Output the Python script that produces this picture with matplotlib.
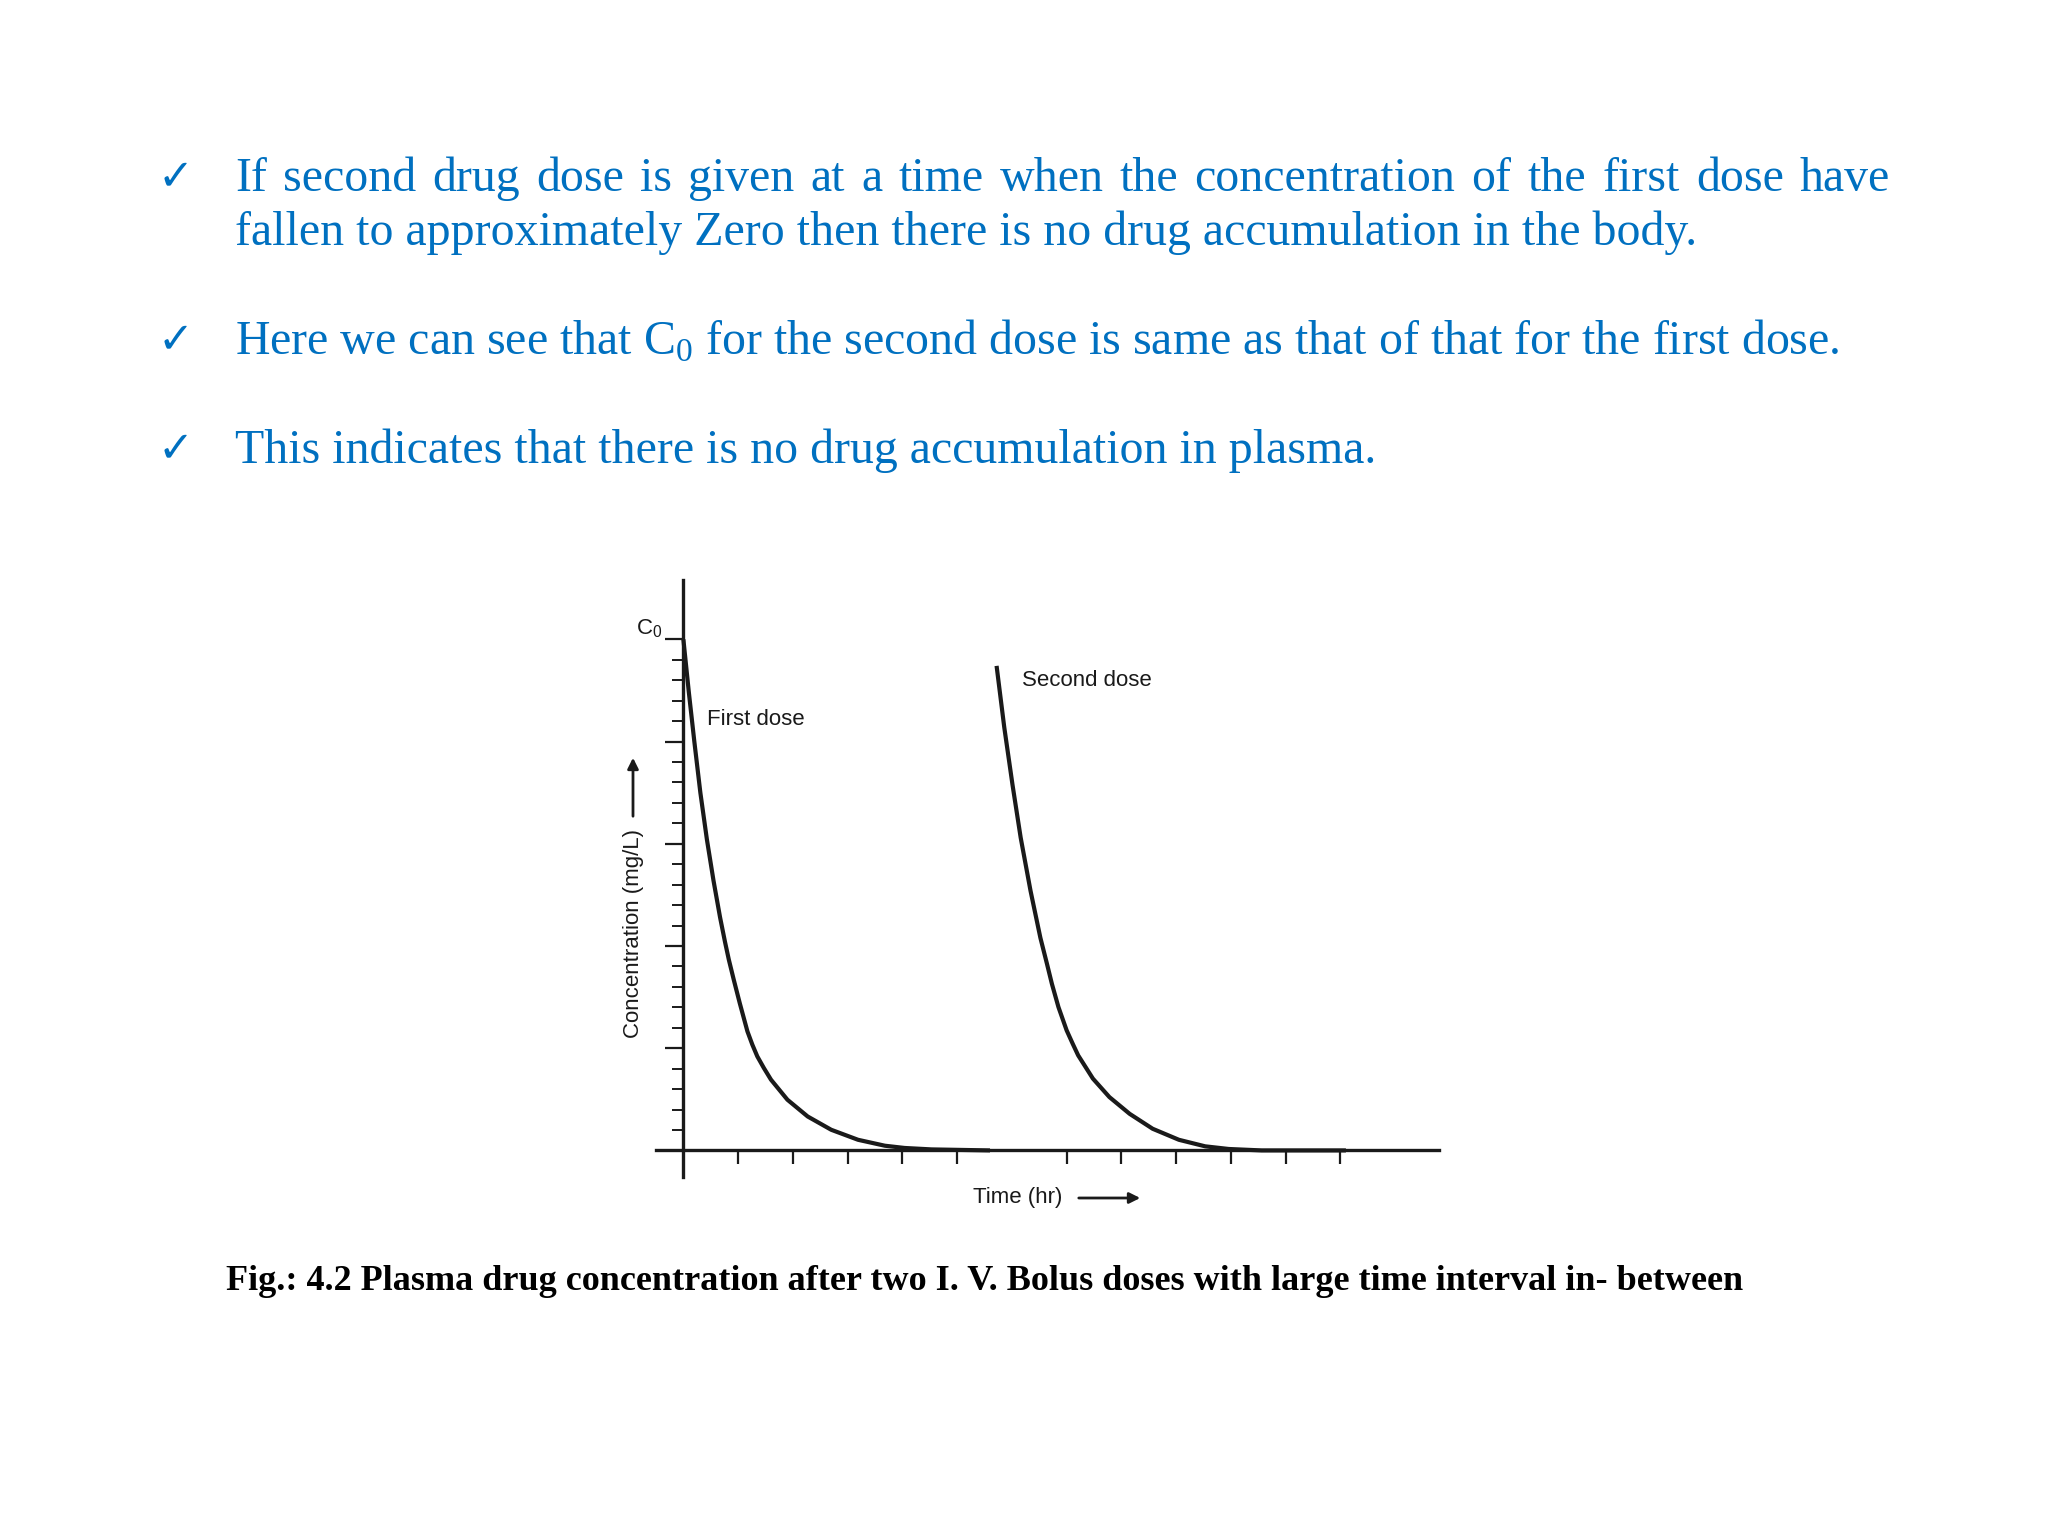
import matplotlib
matplotlib.use("Agg")
import matplotlib.pyplot as plt

# Werte (Zeit in Tick-Einheiten, Konzentration in Tick-Einheiten, C0 = 25)
first_t = [0.0, 0.10, 0.20, 0.31, 0.43, 0.55, 0.67, 0.76, 0.83, 0.92, 1.03, 1.17, 1.26, 1.35, 1.47,
           1.60, 1.90, 2.27, 2.70, 3.19, 3.68, 4.04, 4.53, 5.60]
first_c = [25.0, 22.4, 20.0, 17.5, 15.2, 13.2, 11.4, 10.2, 9.33, 8.35, 7.2, 5.82, 5.17, 4.60, 4.03,
           3.46, 2.48, 1.66, 1.01, 0.52, 0.23, 0.12, 0.05, 0.0]

second_t = [5.72, 5.86, 6.01, 6.16, 6.34, 6.52, 6.64, 6.73, 6.85, 7.00, 7.11, 7.21, 7.48, 7.78,
            8.15, 8.57, 9.05, 9.53, 9.96, 10.56, 12.1]
second_c = [23.7, 20.7, 17.9, 15.3, 12.7, 10.4, 9.13, 8.15, 7.01, 5.87, 5.22, 4.65, 3.51, 2.61,
            1.79, 1.06, 0.52, 0.20, 0.07, 0.0, 0.0]

x_ticks = [1, 2, 3, 4, 5, 7, 8, 9, 10, 11, 12]
y_major = [5, 10, 15, 20, 25]
y_minor = [v for v in range(1, 25) if v % 5 != 0]

bullet_lines = [
    ["If second drug dose is given at a time when the concentration of the first dose have",
     "fallen to approximately Zero then there is no drug accumulation in the body."],
    [r"Here we can see that $\mathrm{C}_0$ for the second dose is same as that of that for the first dose."],
    ["This indicates that there is no drug accumulation in plasma."],
]
baselines = [[191, 245], [354], [463]]
caption = "Fig.: 4.2 Plasma drug concentration after two I. V. Bolus doses with large time interval in- between"

plt.rcParams["mathtext.fontset"] = "custom"
plt.rcParams["mathtext.rm"] = "Liberation Serif"
plt.rcParams["mathtext.sf"] = "Liberation Sans"

W, H = 2048, 1536
BLUE = "#0070C0"
INK = "#1a1a1a"

fig = plt.figure(figsize=(W / 100, H / 100), dpi=100)
fig.patch.set_facecolor("white")
renderer = fig.canvas.get_renderer()


def px(x, y):
    # Pixel (von oben gemessen) -> Figure-Koordinaten
    return x / W, 1 - y / H


def justify(line, x0, x1, y, **kw):
    words = line.split(" ")
    texts = [fig.text(0, 0, w, va="baseline", **kw) for w in words]
    widths = [t.get_window_extent(renderer).width for t in texts]
    gap = (x1 - x0 - sum(widths)) / (len(words) - 1)
    x = x0
    for t, w in zip(texts, widths):
        t.set_position(px(x, y))
        x += w + gap


# Aufzählungspunkte
for lines, ys in zip(bullet_lines, baselines):
    fig.text(*px(158, ys[0] - 2), "\u2713", color=BLUE, fontsize=31, fontweight="bold",
             family="DejaVu Sans", va="baseline")
    for i, (line, y) in enumerate(zip(lines, ys)):
        if i < len(lines) - 1:
            justify(line, 235, 1890, y, color=BLUE, fontsize=34.5, family="Liberation Serif")
        else:
            fig.text(*px(235, y), line, color=BLUE, fontsize=34.5,
                     family="Liberation Serif", va="baseline")

# Diagramm
ax = fig.add_axes([656 / W, 1 - 1177 / H, (1439 - 656) / W, (1177 - 580) / H])
ax.set_facecolor("none")
ax.set_xlim(-0.5, 13.8)
ax.set_ylim(-1.3, 27.9)
ax.plot(first_t, first_c, color=INK, lw=3.0, solid_joinstyle="round", solid_capstyle="butt")
ax.plot(second_t, second_c, color=INK, lw=3.0, solid_joinstyle="round", solid_capstyle="butt")

for s in ["top", "right"]:
    ax.spines[s].set_visible(False)
for s in ["left", "bottom"]:
    ax.spines[s].set_position(("data", 0))
    ax.spines[s].set_linewidth(2.4)
    ax.spines[s].set_color(INK)

ax.set_xticks(x_ticks)
ax.set_xticklabels([])
ax.set_yticks(y_major)
ax.set_yticks(y_minor, minor=True)
ax.set_yticklabels([])
ax.tick_params(axis="x", direction="out", length=10, width=1.6, color=INK)
ax.tick_params(axis="y", which="major", direction="out", length=13, width=1.6, color=INK)
ax.tick_params(axis="y", which="minor", direction="out", length=8, width=1.4, color=INK)

ax.text(-0.38, 25.5, r"$\mathsf{C}_\mathsf{0}$", ha="right", va="center",
        fontsize=16, color=INK)
ax.text(0.44, 21.1, "First dose", ha="left", va="center", fontsize=16,
        family="Liberation Sans", color=INK)
ax.text(6.19, 23.0, "Second dose", ha="left", va="center", fontsize=16,
        family="Liberation Sans", color=INK)

# Achsenbeschriftungen mit Pfeilen
fig.text(*px(973, 1198), "Time (hr)", ha="left", va="center", fontsize=16,
         family="Liberation Sans", color=INK)
ax.annotate("", xy=(1143, H - 1198), xytext=(1076, H - 1198), xycoords="figure pixels",
            arrowprops=dict(arrowstyle="-|>", lw=2, color=INK, mutation_scale=16))
fig.text(*px(633, 933), "Concentration (mg/L)", ha="center", va="center", rotation=90,
         fontsize=16, family="Liberation Sans", color=INK)
ax.annotate("", xy=(633, H - 755), xytext=(633, H - 819), xycoords="figure pixels",
            arrowprops=dict(arrowstyle="-|>", lw=2, color=INK, mutation_scale=16))

# Bildunterschrift
fig.text(*px(226, 1290), caption, ha="left", va="baseline", fontsize=26,
         fontweight="bold", family="Liberation Serif", color="black")

fig.savefig("out.png", dpi=100, facecolor="white")
